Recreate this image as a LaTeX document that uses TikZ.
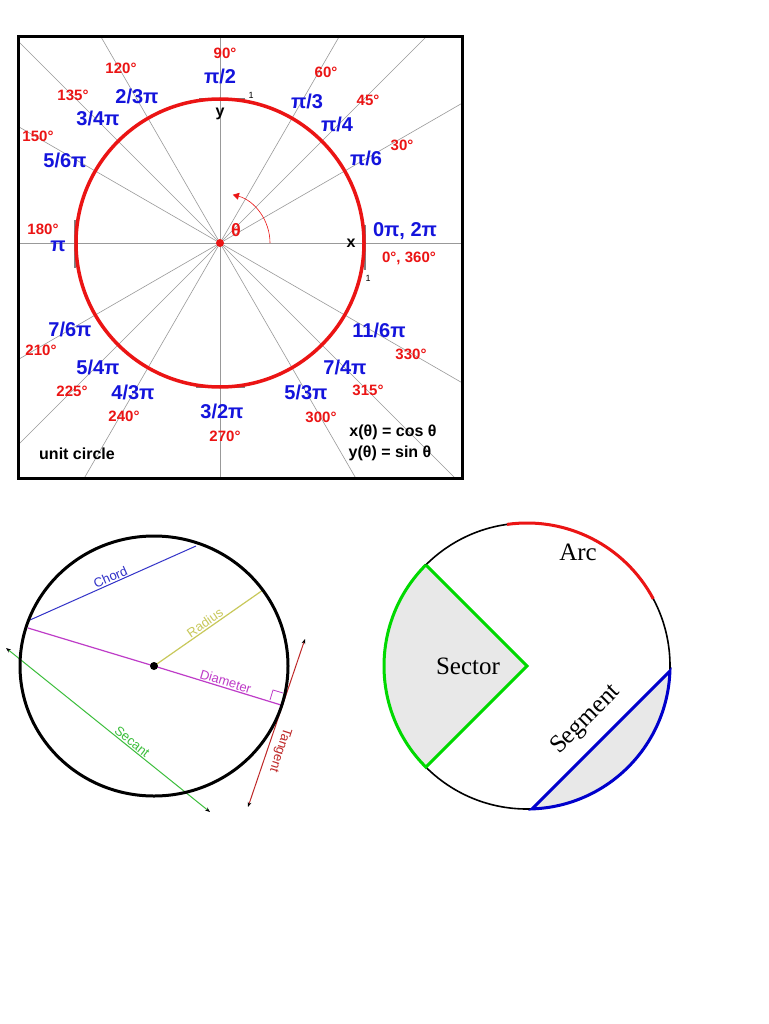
\documentclass[tikz,border=0pt]{standalone}
\usepackage{fontspec}
\setmainfont{Liberation Serif}
\newfontfamily\lab{Liberation Sans}
\usetikzlibrary{arrows.meta,calc}
\definecolor{tred}{RGB}{235,20,20}
\definecolor{tblue}{RGB}{20,20,220}
\definecolor{yel}{RGB}{200,200,90}
\definecolor{mag}{RGB}{190,60,200}
\definecolor{sec}{RGB}{60,190,60}
\definecolor{tng}{RGB}{190,40,40}
\definecolor{chd}{RGB}{50,50,200}
\tikzset{
 rl/.style={text=tred,font=\lab\bfseries\fontsize{15}{15}\selectfont,inner sep=0},
 bl/.style={text=tblue,font=\lab\bfseries\fontsize{20}{20}\selectfont,inner sep=0},
 kl/.style={text=black,font=\lab\bfseries\fontsize{16}{16}\selectfont,inner sep=0},
 ray/.style={gray!80,line width=0.6pt},
 tk/.style={gray,line width=2pt},
 dl/.style={font=\lab\fontsize{13}{13}\selectfont,inner sep=1pt},
 bigl/.style={font=\fontsize{25}{25}\selectfont,inner sep=0},
}
\begin{document}
\begin{tikzpicture}[x=1pt,y=-1pt]
\useasboundingbox[fill=white] (0,0) rectangle (768,1024);
% ---------- unit circle ----------
\coordinate (O) at (220,243);
\begin{scope}
\clip (18,37) rectangle (462,478);
\foreach \a in {0,30,45,60,90,120,135,150}{
  \draw[ray] ($(O)+(\a:-400)$) -- ($(O)+(\a:400)$);}
\end{scope}
\draw[tk] (199,99) -- (245,99);
\draw[tk] (196,387) -- (245,387);
\draw[tk] (75,220) -- (75,268);
\draw[tk] (365,225) -- (365,270);
\draw[tred,line width=3.5pt] (O) circle[radius=144];
\draw[tred,line width=0.6pt,-{Triangle[length=6pt,width=7pt]}] ($(O)+(50,0)$) arc[start angle=0,end angle=-75,radius=50];
\fill[tred] (O) circle[radius=4];
\draw[black,line width=3pt] (18,37) rectangle (462,478);
\node[rl] at (225,53) {90°}; \node[bl] at (220,76) {π/2};
\node[rl] at (121,68) {120°}; \node[bl] at (137,96) {2/3π};
\node[rl] at (73,95) {135°}; \node[bl] at (98,118) {3/4π};
\node[rl] at (38,136) {150°}; \node[bl] at (65,160) {5/6π};
\node[rl] at (326,72) {60°}; \node[bl] at (307,101) {π/3};
\node[rl] at (368,100) {45°}; \node[bl] at (337,124) {π/4};
\node[rl] at (402,145) {30°}; \node[bl] at (366,158) {π/6};
\node[rl] at (43,229) {180°}; \node[bl] at (58,246) {π};
\node[bl] at (405,231) {0π, 2π}; \node[rl] at (409,258) {0°, 360°};
\node[bl] at (70,329) {7/6π}; \node[rl] at (41,350) {210°};
\node[bl] at (98,367) {5/4π}; \node[rl] at (72,391) {225°};
\node[bl] at (133,392) {4/3π}; \node[rl] at (124,416) {240°};
\node[bl] at (222,411) {3/2π}; \node[rl] at (225,436) {270°};
\node[bl] at (306,392) {5/3π}; \node[rl] at (321,417) {300°};
\node[bl] at (345,367) {7/4π}; \node[rl] at (368,390) {315°};
\node[bl] at (379,330) {11/6π}; \node[rl] at (411,354) {330°};
\node[rl,font=\lab\bfseries\fontsize{18}{18}\selectfont] at (236,230) {θ};
\node[kl] at (351,243) {x}; \node[kl] at (220,114) {y};
\node[dl,font=\lab\fontsize{9}{9}\selectfont] at (251,95) {1};
\node[dl,font=\lab\fontsize{9}{9}\selectfont] at (368,278) {1};
\node[kl] at (77,454) {unit circle};
\node[kl] at (393,432) {x(θ) = cos θ};
\node[kl] at (390,453) {y(θ) = sin θ};
% ---------- circle parts ----------
\coordinate (C) at (154,666);
\coordinate (ch1) at (30,620); \coordinate (ch2) at (196,546);
\coordinate (ra) at (263,590);
\coordinate (d1) at (28,628); \coordinate (d2) at (281,705);
\coordinate (s1) at (6,648); \coordinate (s2) at (210,812);
\coordinate (t1) at (305,639); \coordinate (t2) at (248,807);
\draw[chd,line width=1pt] (ch1) -- node[dl,above,sloped,text=chd] {Chord} (ch2);
\draw[yel,line width=1.2pt] (C) -- node[dl,above,sloped,text=yel] {Radius} (ra);
\draw[mag,line width=1.2pt] (d1) -- (C) -- node[dl,above,sloped,text=mag,pos=0.55] {Diameter} (d2);
\draw[mag,line width=0.8pt] (270,700) -- (273,690) -- (283,693);
\draw[sec,line width=1pt,{Stealth[length=5pt,black]}-{Stealth[length=5pt,black]}] (s1) -- node[dl,above,sloped,text=sec,pos=0.6] {Secant} (s2);
\draw[tng,line width=1pt,{Stealth[length=5pt,black]}-{Stealth[length=5pt,black]}] (t1) -- (t2);
\node[dl,text=tng,rotate=-108] (tl) at (280,750) {Tangent};
\draw[black,line width=3pt] (C) ellipse[x radius=134,y radius=130];
\fill (C) circle[radius=4];
% ---------- sector / segment / arc ----------
\coordinate (Q) at (527,666);
\fill[gray!18] (Q) -- ($(Q)+(135:143)$) arc[start angle=135,end angle=225,radius=143] -- cycle;
\fill[gray!18] ($(Q)+(88:143)$) arc[start angle=88,end angle=2,radius=143] -- cycle;
\draw[black,line width=1.6pt] (Q) circle[radius=143];
\draw[tred,line width=3pt] ($(Q)+(-28:143)$) arc[start angle=-28,end angle=-98,radius=143];
\draw[green!85!black,line width=3pt] ($(Q)+(225:143)$) -- (Q) -- ($(Q)+(135:143)$) arc[start angle=135,end angle=225,radius=143];
\draw[blue!80!black,line width=3pt] ($(Q)+(88:143)$) arc[start angle=88,end angle=2,radius=143] -- cycle;
\node[bigl] at (578,552) {Arc};
\node[bigl] at (468,666) {Sector};
\node[bigl,rotate=45] at (586,720) {Segment};
\end{tikzpicture}
\end{document}
